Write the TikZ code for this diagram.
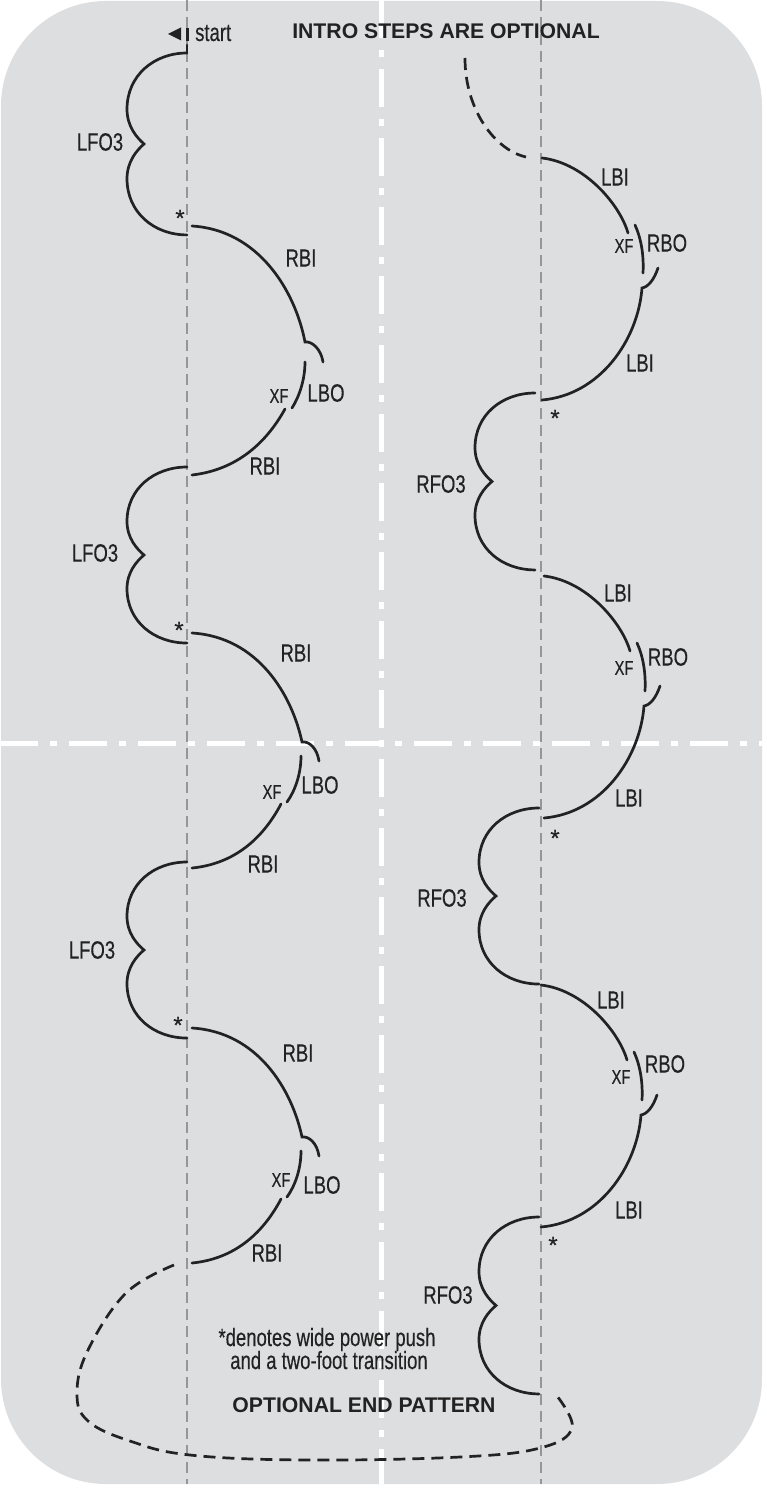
\documentclass[tikz,border=0pt]{standalone}
\usepackage{fontspec}
\setmainfont{Liberation Sans}
\newfontfamily\condfont[FakeStretch=0.74,FakeBold=0.35]{Liberation Sans}
\newfontfamily\starfont[FakeBold=0.5]{Liberation Sans}
\definecolor{bg}{RGB}{221,222,224}
\definecolor{ink}{RGB}{34,34,34}
\definecolor{guide}{RGB}{150,150,152}
\newcommand\lobe[4]{% name, x, y0, yscale
  \draw[skate, shift={(#2,#3)}, yscale=#4] (0,0) .. controls (-33,0) and (-60,22) .. (-60,55)
    .. controls (-60,72) and (-50,83) .. (-43,89)
    .. controls (-50,95) and (-60,106) .. (-60,123)
    .. controls (-60,156) and (-33,178) .. (0,178);}
\newcommand\ledge[2]{% left-column edge unit, shifted from second instance
  \begin{scope}[shift={(#1,#2)}]
  \draw[skate] (192,633) .. controls (258,637) and (292,695) .. (302,742)
    .. controls (309,741) and (317,748) .. (319,761);
  \draw[skate] (301,756) .. controls (301,774) and (295,791) .. (287,802);
  \draw[skate] (281,804) .. controls (262,840) and (233,864) .. (192,868);
  \end{scope}}
\newcommand\redge[2]{% right-column edge unit, shifted from first instance
  \begin{scope}[shift={(#1,#2)}]
  \draw[skate] (542,158) .. controls (585,163) and (620,205) .. (628,233);
  \draw[skate] (635,225) .. controls (641,238) and (644,255) .. (643,273);
  \draw[skate] (658,268) .. controls (654,280) and (648,287) .. (642,288)
    .. controls (638,340) and (600,395) .. (542,400);
  \end{scope}}
\begin{document}
\begin{tikzpicture}[x=1pt,y=-1pt,
  skate/.style={draw=ink, line width=2.7pt, line cap=round},
  skatedash/.style={draw=ink, line width=2.7pt, dash pattern=on 12pt off 7pt},
  guideline/.style={draw=guide, line width=2.4pt, dash pattern=on 11pt off 6pt},
  axisline/.style={draw=white, line width=5pt, dash pattern=on 38pt off 12pt on 7pt off 12pt},
  lbl/.style={font=\condfont\fontsize{25}{28}\selectfont, text=ink, inner sep=0pt},
  xflbl/.style={font=\condfont\fontsize{20}{23}\selectfont, text=ink, inner sep=0pt},
  starlbl/.style={font=\starfont\fontsize{24}{26}\selectfont, text=ink, inner sep=0pt, yshift=-5.1pt},
  head/.style={font=\bfseries\fontsize{21.2}{25}\selectfont, text=ink, inner sep=0pt}]
\useasboundingbox (0,0) rectangle (766,1490);
\fill[bg, rounded corners=105pt] (1,1) rectangle (762,1484);
% white axes
\draw[axisline] (381,0) -- (381,1484);
\draw[axisline] (0,743) -- (762,743);
% gray guide lines
\draw[guideline] (187,0) -- (187,1484);
\draw[guideline] (541,0) -- (541,1484);

% ---------- left column ----------
\fill[ink] (168,34) -- (181,27.5) -- (181,40.5) -- cycle;
\draw[ink, line width=3pt] (187,28) -- (187,41);
\node[lbl, anchor=base west] (start) at (195,41) {start};
\draw[skate] (187,45) -- (187,53);
\lobe{l1}{187}{53}{1.022}
\draw[skate] (192,226) .. controls (258,230) and (295,290) .. (305,342)
  .. controls (312,341) and (321,349) .. (323,362);
\draw[skate] (305,362) .. controls (305,380) and (299,397) .. (292,408);
\draw[skate] (285,409) .. controls (265,445) and (235,470) .. (192,475);
\lobe{l2}{187}{467}{0.989}
\ledge{0}{0}
\lobe{l3}{187}{862}{0.989}
\ledge{0}{395}

\node[lbl] (lfo1) at (100,142) {LFO3};
\node[lbl] (lfo2) at (95,553) {LFO3};
\node[lbl] (lfo3) at (92,950) {LFO3};
\node[starlbl] (ls1) at (180,213) {*};
\node[starlbl] (ls2) at (179,625) {*};
\node[starlbl] (ls3) at (178,1020) {*};
\node[lbl] (rbia1) at (301,258) {RBI};
\node[lbl] (rbia2) at (296,653) {RBI};
\node[lbl] (rbia3) at (298,1053) {RBI};
\node[xflbl] (lxf1) at (279,396) {XF};
\node[xflbl] (lxf2) at (272,792) {XF};
\node[xflbl] (lxf3) at (281,1180) {XF};
\node[lbl] (lbo1) at (326,393) {LBO};
\node[lbl] (lbo2) at (320,785) {LBO};
\node[lbl] (lbo3) at (322,1185) {LBO};
\node[lbl] (rbib1) at (265,466) {RBI};
\node[lbl] (rbib2) at (263,864) {RBI};
\node[lbl] (rbib3) at (267,1253) {RBI};

% ---------- right column ----------
\draw[skatedash] (465,58) .. controls (465,110) and (495,150) .. (526,157);
\redge{0}{0}
\lobe{r1}{535}{393}{0.994}
\redge{2}{418}
\lobe{r2}{539}{808}{0.989}
\redge{-1}{827}
\lobe{r3}{539}{1217}{0.994}

\node[lbl] (lbia1) at (615,177) {LBI};
\node[lbl] (lbia2) at (618,593) {LBI};
\node[lbl] (lbia3) at (611,1000) {LBI};
\node[xflbl] (rxf1) at (624,246) {XF};
\node[xflbl] (rxf2) at (624,668) {XF};
\node[xflbl] (rxf3) at (621,1077) {XF};
\node[lbl] (rbo1) at (667,243) {RBO};
\node[lbl] (rbo2) at (668,657) {RBO};
\node[lbl] (rbo3) at (665,1064) {RBO};
\node[lbl] (lbib1) at (640,363) {LBI};
\node[lbl] (lbib2) at (629,798) {LBI};
\node[lbl] (lbib3) at (629,1210) {LBI};
\node[starlbl] (rs1) at (555,413) {*};
\node[starlbl] (rs2) at (555,833) {*};
\node[starlbl] (rs3) at (553,1240) {*};
\node[lbl] (rfo1) at (441,484) {RFO3};
\node[lbl] (rfo2) at (442,898) {RFO3};
\node[lbl] (rfo3) at (448,1295) {RFO3};

% ---------- end pattern ----------
\draw[skatedash] plot[smooth, tension=0.65] coordinates {(174,1265) (126,1293) (88,1350) (77,1393) (88,1421) (130,1441) (190,1455) (307,1460) (460,1457) (540,1448) (572,1428) (557,1396)};

% ---------- headings and note ----------
\node[head] (intro) at (446,31) {INTRO STEPS ARE OPTIONAL};
\node[head] (endpat) at (364,1405) {OPTIONAL END PATTERN};
\node[lbl, anchor=base] (note1) at (327,1346) {*denotes wide power push};
\node[lbl, anchor=base] (note2) at (329,1369) {and a two-foot transition};
\end{tikzpicture}
\end{document}
